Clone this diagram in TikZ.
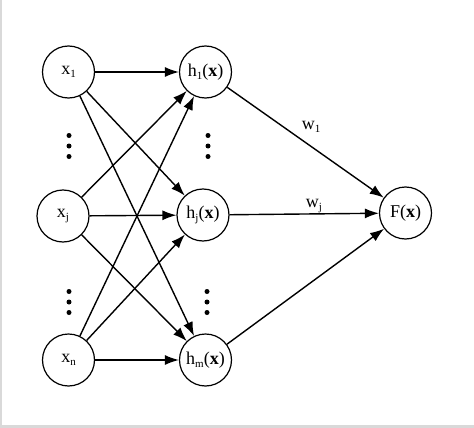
\documentclass[tikz,border=0pt]{standalone}
\usepackage{fontspec}
\setmainfont{Liberation Serif}
\usetikzlibrary{arrows.meta}
\newcommand{\mysub}[1]{\raisebox{-0.35ex}{\fontsize{11}{11}\selectfont #1}}
\begin{document}
\begin{tikzpicture}[x=1pt,y=-1pt,
  neuron/.style={draw,circle,line width=1.2pt,minimum size=52pt,inner sep=0pt,font=\fontsize{18}{18}\selectfont},
  arr/.style={line width=1.4pt,-{Latex[length=14pt,width=10pt]}},
  lbl/.style={font=\fontsize{18}{18}\selectfont,inner sep=0pt},
  vdot/.style={circle,fill,inner sep=0pt,minimum size=5pt}]
\useasboundingbox (0,0) rectangle (474,428);
\fill[white] (0,0) rectangle (474,428);
\draw[gray!30,line width=2.5pt] (1.2,0) -- (1.2,426.5) -- (474,426.5);
\node[neuron] (x1) at (68.5,72) {x\mysub{1}};
\node[neuron] (xj) at (63,216) {x\mysub{j}};
\node[neuron] (xn) at (68.5,360) {x\mysub{n}};
\node[neuron] (h1) at (205.5,72) {h\mysub{1}(\textbf{x})};
\node[neuron] (hj) at (203,215) {h\mysub{j}(\textbf{x})};
\node[neuron] (hm) at (205.5,360) {h\mysub{m}(\textbf{x})};
\node[neuron] (F) at (405.5,213) {F(\textbf{x})};
\foreach \s in {x1,xj,xn}{
  \foreach \t in {h1,hj,hm}{
    \draw[arr] (\s) -- (\t);
  }
}
\draw[arr] (h1) -- (F);
\draw[arr] (hj) -- (F);
\draw[arr] (hm) -- (F);
\node[lbl] (w1) at (311,127) {w\mysub{1}};
\node[lbl] (wj) at (314,206) {w\mysub{j}};
\foreach \cx/\cy [count=\i] in {69/146,208/146,69/302,207/302}{
  \node[vdot] (da\i) at (\cx,\cy-10.5) {};
  \node[vdot] (db\i) at (\cx,\cy) {};
  \node[vdot] (dc\i) at (\cx,\cy+10.5) {};
}
\end{tikzpicture}
\end{document}
